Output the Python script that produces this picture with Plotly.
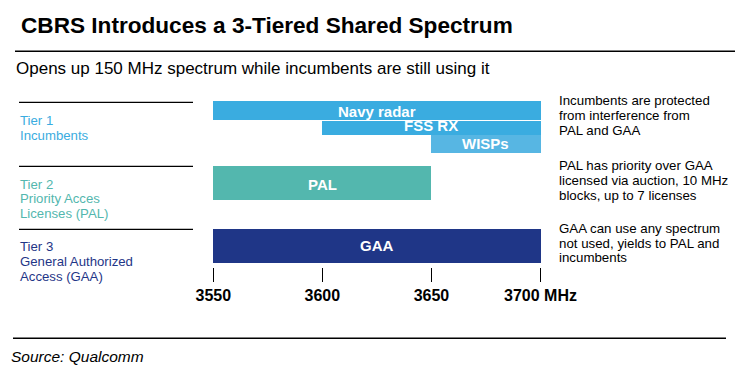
import plotly.graph_objects as go

# ---------------- data ----------------
band_names = ["Navy radar", "FSS RX", "WISPs", "PAL", "GAA"]
band_start = [3550, 3600, 3650, 3550, 3550]   # MHz
band_end = [3700, 3700, 3700, 3650, 3700]     # MHz

tier_labels = [
    ["Tier 1", "Incumbents"],
    ["Tier 2", "Priority Acces", "Licenses (PAL)"],
    ["Tier 3", "General Authorized", "Access (GAA)"],
]
tier_notes = [
    ["Incumbents are protected", "from interference from", "PAL and GAA"],
    ["PAL has priority over GAA", "licensed via auction, 10 MHz", "blocks, up to 7 licenses"],
    ["GAA can use any spectrum", "not used, yields to PAL and", "incumbents"],
]
tick_vals = [3550, 3600, 3650, 3700]
tick_text = ["3550", "3600", "3650", "3700 MHz"]

title = "CBRS Introduces a 3-Tiered Shared Spectrum"
subtitle = "Opens up 150 MHz spectrum while incumbents are still using it"
source = "Source: Qualcomm"

# ---------------- layout / style ----------------
W, H = 752, 382
AXIS_PX = 266.5          # pixel row of the x axis (top of ticks)
# pixel layout of rows (y centre, thickness) -- y axis in pixel units
row_y = [110.5, 127.5, 144.0, 183.0, 246.0]
row_h = [19, 14, 18, 34, 34]
label_dy = [1.0, -2.5, -0.5, 1.0, -1.0]
band_colors = ["#3aace0", "#3aace0", "#57b6e3", "#53b7ae", "#1f3687"]
tier_colors = ["#3aace0", "#53b7ae", "#1f3687"]
tier_text_y = [120.7, 184.0, 246.7]
tier_rule_y = [102.3, 166.3, 229.3]
note_y = [100.7, 165.7, 228.3]
LINE = 14.8

PX_3550, PX_3700 = 213.3, 540.5
scale = (PX_3700 - PX_3550) / 150.0
x0 = 3550 - PX_3550 / scale
x1 = x0 + W / scale

FONT = "Liberation Sans"


def px(x):
    return x / W


def py(y):
    return 1 - y / H


fig = go.Figure()
for i, name in enumerate(band_names):
    fig.add_trace(go.Bar(
        y=[row_y[i]],
        x=[band_end[i] - band_start[i]],
        base=[band_start[i]],
        width=[row_h[i]],
        orientation="h",
        marker=dict(color=band_colors[i], line=dict(width=0)),
        name=name,
        showlegend=False,
        hoverinfo="skip",
    ))
    fig.add_annotation(
        x=(band_start[i] + band_end[i]) / 2, y=row_y[i] + label_dy[i],
        xref="x", yref="y", text=name, showarrow=False,
        font=dict(family=FONT, size=15, color="white", weight="bold"),
        xanchor="center", yanchor="middle",
    )


def add_text(x, y, text, size, color="black", weight="normal", style="normal"):
    fig.add_annotation(x=px(x), y=py(y), xref="paper", yref="paper",
                       text=text, showarrow=False, xanchor="left", yanchor="middle",
                       font=dict(family=FONT, size=size, color=color,
                                 weight=weight, style=style))


add_text(19, 25.5, title, 22.6, weight="bold")
add_text(14, 68.5, subtitle, 17)
add_text(9, 356, source, 15.5, style="italic")
for t in range(3):
    for k, line in enumerate(tier_labels[t]):
        add_text(18, tier_text_y[t] + k * LINE, line, 13.2, color=tier_colors[t])
    for k, line in enumerate(tier_notes[t]):
        add_text(557, note_y[t] + k * LINE, line, 13.3)

shapes = []
shapes.append(dict(type="line", xref="paper", yref="paper", x0=px(15), x1=px(735),
                   y0=py(51.3), y1=py(51.3), line=dict(color="black", width=1.5)))
shapes.append(dict(type="line", xref="paper", yref="paper", x0=px(13), x1=px(726),
                   y0=py(338.3), y1=py(338.3), line=dict(color="black", width=1.5)))
for t in range(3):
    shapes.append(dict(type="line", xref="paper", yref="paper", x0=px(19), x1=px(193),
                       y0=py(tier_rule_y[t]), y1=py(tier_rule_y[t]),
                       line=dict(color="black", width=1.3)))
fig.update_layout(shapes=shapes)

fig.update_layout(
    width=W, height=H, autosize=False,
    margin=dict(l=0, r=0, t=0, b=0),
    paper_bgcolor="white", plot_bgcolor="white",
    bargap=0,
    xaxis=dict(range=[x0, x1], domain=[0, 1], showgrid=False, zeroline=False,
               showline=False, tickvals=tick_vals, ticktext=tick_text,
               ticks="outside", ticklen=14, tickwidth=1.3, tickcolor="black",
               anchor="y", side="bottom",
               tickfont=dict(family=FONT, size=16, color="black", weight="bold")),
    yaxis=dict(range=[AXIS_PX, 0], domain=[py(AXIS_PX), 1], showgrid=False,
               zeroline=False, showline=False, showticklabels=False, ticks=""),
)

fig.write_html("out.html", config={"displayModeBar": False},
               post_script="document.body.style.margin='0';")
